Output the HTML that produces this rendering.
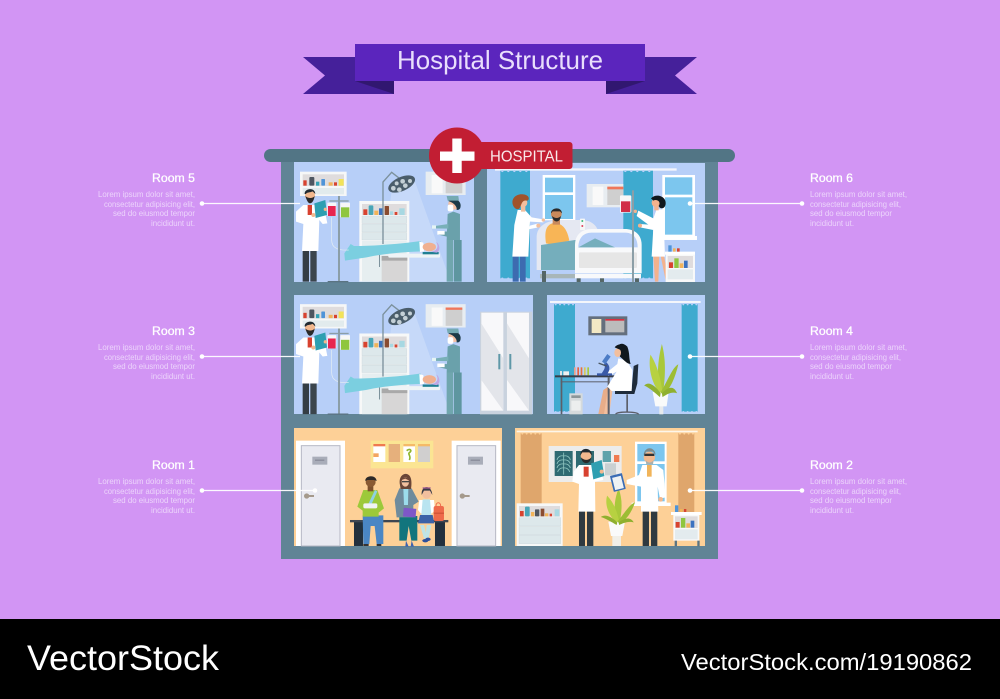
<!DOCTYPE html>
<html><head><meta charset="utf-8"><title>Hospital Structure</title>
<style>html,body{margin:0;padding:0;background:#d295f4}svg{display:block}text{font-family:"Liberation Sans",sans-serif}.r{stroke:#fff;stroke-width:.25}</style></head>
<body>
<svg xmlns="http://www.w3.org/2000/svg" width="1000" height="699" viewBox="0 0 1000 699">
<defs>
<g id="plant">
<path d="M-4,0C-10,-40 -6,-70 6,-100C18,-70 18,-40 10,0Z" fill="#a9c83a"/>
<path d="M-2,0C-28,-20 -38,-55 -30,-78C-10,-58 2,-30 8,0Z" fill="#b7d141"/>
<path d="M2,0C25,-25 40,-52 58,-58C48,-30 32,-6 10,5Z" fill="#9dbd34"/>
<path d="M2,2C-15,-14 -36,-24 -50,-14C-30,-8 -15,2 0,10Z" fill="#8fb02f"/>
<path d="M6,2C25,-10 42,-16 54,2C36,-2 22,4 8,10Z" fill="#8fb02f"/>
</g>
<g id="shelfItems">
<rect x="0" y="10" width="10" height="16" fill="#d8432f"/><rect x="18" y="0" width="15" height="26" rx="3" fill="#4f5660"/>
<rect x="38" y="14" width="10" height="12" fill="#35a3b5"/><rect x="54" y="6" width="11" height="20" rx="2" fill="#4f94d8"/>
<rect x="76" y="16" width="12" height="10" fill="#f1b45a"/><rect x="92" y="16" width="9" height="10" fill="#d8432f"/><rect x="106" y="6" width="15" height="20" fill="#f2e35a"/>
</g>
<g id="surgery">
<rect x="60" y="155" width="140" height="73" fill="#f6f7f7"/><rect x="68" y="163" width="124" height="35" fill="#dfdcdd"/><rect x="68" y="204" width="124" height="19" fill="#e2ebed"/>
<use href="#shelfItems" x="70" y="171"/>
<rect x="437" y="155" width="120" height="70" fill="#e8edf1"/><rect x="455" y="165" width="33" height="55" fill="#f9f9f9"/><rect x="497" y="165" width="50" height="55" fill="#cfcfcf"/><rect x="497" y="165" width="50" height="7" fill="#f0765a"/>
<polygon points="335,213 405,185 512,485 298,485" fill="#fff" opacity=".22"/>
<rect x="238" y="243" width="150" height="242" fill="#f7f8f8"/><rect x="246" y="252" width="134" height="33" fill="#dfdcdd"/>
<rect x="250" y="268" width="12" height="17" fill="#d8432f"/><rect x="266" y="256" width="14" height="29" rx="3" fill="#48a6b8"/><rect x="283" y="272" width="12" height="13" fill="#f1b45a"/><rect x="297" y="265" width="12" height="20" fill="#3c72c0"/><rect x="314" y="258" width="13" height="27" rx="2" fill="#8a4c30"/><rect x="330" y="274" width="9" height="11" fill="#a7d8e2"/><rect x="344" y="276" width="8" height="9" fill="#d8432f"/><rect x="358" y="265" width="16" height="20" fill="#a7d8e2"/>
<g fill="#dde8eb" stroke="#c6d3d7"><rect x="246" y="288" width="134" height="22"/><rect x="246" y="312" width="134" height="24"/><rect x="246" y="338" width="134" height="22"/></g>
<rect x="246" y="363" width="134" height="122" fill="#e6eef0"/><rect x="305" y="408" width="77" height="77" fill="#d7d6d6"/><rect x="305" y="408" width="77" height="14" fill="#a9a9a9"/>
<g fill="none" stroke="#7c919c" stroke-width="4"><path d="M309,372V186L335,157L362,178"/></g>
<rect x="297" y="405" width="3" height="36" fill="#7c919c"/>
<ellipse cx="365" cy="192" rx="43" ry="21" transform="rotate(-24 365 192)" fill="#4a5d6b"/>
<g fill="#c4d0d6"><circle cx="340" cy="205" r="7"/><circle cx="358" cy="209" r="7"/><circle cx="376" cy="197" r="7"/><circle cx="390" cy="183" r="6"/><circle cx="368" cy="184" r="7"/><circle cx="350" cy="190" r="6"/></g>
<rect x="325" y="401" width="155" height="12" rx="3" fill="#eef4f6"/><rect x="428" y="396" width="48" height="7" fill="#1f7f92"/>
<path d="M193,400L212,372L222,378C280,378 360,372 422,363L424,394C360,396 300,403 260,412L195,422Z" fill="#7bcfe0"/><path d="M418,365L430,368L432,394L420,396Z" fill="#fff"/>
<ellipse cx="448" cy="381" rx="20" ry="13" fill="#f0b090"/><path d="M450,395C470,395 478,380 468,366C480,370 482,395 470,398Z" fill="#bfa8e4"/>
<path d="M155,292V360C155,385 175,392 206,390" fill="none" stroke="#e6eef3" stroke-width="2"/>
<rect x="174" y="228" width="6" height="257" fill="#8b9ea7"/><rect x="148" y="241" width="58" height="4" fill="#8b9ea7"/><rect x="143" y="483" width="62" height="4" fill="#5b7482"/>
<rect x="142" y="248" width="27" height="40" rx="2" fill="#f7f7f7"/><rect x="144" y="258" width="23" height="30" fill="#e8254f"/>
<rect x="181" y="248" width="29" height="44" rx="2" fill="#f7f7f7"/><rect x="183" y="262" width="25" height="30" fill="#8fc63e"/>
<use href="#doc5"/>
<g>
<rect x="500" y="360" width="20" height="125" fill="#70a6ae"/><rect x="522" y="360" width="23" height="125" fill="#5e96a0"/>
<path d="M503,282L520,275L540,282V360H500Z" fill="#6aa1ab"/><path d="M505,312L465,318L465,325L505,326Z" fill="#79b0b8"/><path d="M510,335L475,334V344L510,352Z" fill="#6aa1ab"/>
<rect x="456" y="316" width="12" height="10" fill="#e6f5f5"/><rect x="472" y="333" width="22" height="11" fill="#fff"/>
<circle cx="522" cy="252" r="17" fill="#f3bfa4"/><path d="M505,243C515,232 540,236 542,255C542,265 540,270 530,270C532,258 520,248 505,243Z" fill="#1d3a48"/>
<rect x="503" y="254" width="17" height="20" rx="6" fill="#fff"/><path d="M500,228H535L537,242H503Z" fill="#75aab3"/>
</g>
</g>
<g id="doc5">
<rect x="68" y="392" width="19" height="93" fill="#343d44"/><rect x="91" y="392" width="19" height="93" fill="#3b454c"/>
<path d="M70,255L108,255L135,275L142,310L128,312L118,300L115,393H66L70,312L48,305V275Z" fill="#fff"/>
<rect x="83" y="255" width="13" height="30" fill="#d8412f"/>
<circle cx="90" cy="226" r="15" fill="#f2b88e"/><path d="M74,222C72,205 105,200 106,222L98,214C90,218 80,216 78,222Z" fill="#222a30"/><path d="M76,228C80,240 84,250 90,250C97,250 102,240 104,228C98,236 84,236 76,228Z" fill="#2a2a2a"/>
<polygon points="103,250 136,240 141,285 107,294" fill="#2e9fb1"/><circle cx="100" cy="285" r="6" fill="#f2b88e"/><circle cx="136" cy="268" r="5" fill="#f2b88e"/>
</g>
</defs>

<rect width="1000" height="699" fill="#d295f4"/>

<!-- title ribbon -->
<polygon points="303,57 394,57 394,94 303,94 325,75.5" fill="#45209a"/>
<polygon points="697,57 606,57 606,94 697,94 675,75.5" fill="#45209a"/>
<polygon points="355,81 394,81 394,94" fill="#311770"/><polygon points="645,81 606,81 606,94" fill="#311770"/>
<rect x="355" y="44" width="290" height="37" fill="#5b25bd"/>
<text x="397" y="69" font-size="26" fill="#e9defc" textLength="206" lengthAdjust="spacingAndGlyphs">Hospital Structure</text>

<!-- building -->
<rect x="281" y="155" width="437" height="404" fill="#618496"/>
<rect x="264" y="149" width="471" height="13" rx="6.5" fill="#527585"/>
<rect x="294" y="162" width="180" height="120" fill="#b7cff8"/>
<rect x="487" y="163" width="218" height="119" fill="#b7cff8"/>
<rect x="294" y="295" width="239" height="119" fill="#b7cff8"/>
<rect x="547" y="295" width="158" height="119" fill="#b7cff8"/>
<rect x="294" y="428" width="208" height="118" fill="#fdd097"/>
<rect x="515" y="428" width="190" height="118" fill="#fdd097"/>

<!-- room 5 -->
<g transform="translate(280,120) scale(.3333)"><use href="#surgery"/></g>
<!-- room 3 -->
<g transform="translate(280,252.5) scale(.3333)"><use href="#surgery"/></g>
<g transform="translate(280,290) scale(.3333)">
<rect x="600" y="65" width="157" height="308" fill="#c9d2de"/><rect x="604" y="68" width="66" height="294" fill="#f8f8fa"/><rect x="681" y="68" width="66" height="294" fill="#f8f8fa"/>
<polygon points="604,100 670,205 670,362 604,270" fill="#e3e5ea"/><polygon points="681,100 747,205 747,362 681,270" fill="#e3e5ea"/>
<rect x="655" y="192" width="6" height="46" fill="#5f98a8"/><rect x="688" y="192" width="6" height="46" fill="#5f98a8"/>
</g>

<!-- room 6 -->
<g transform="translate(480,130) scale(.3333)">
<rect x="45" y="115" width="545" height="7" fill="#f4f6fb"/>
<rect x="61" y="122" width="89" height="323" fill="#3eaacf"/><rect x="430" y="122" width="89" height="323" fill="#3eaacf"/>
<g stroke="#b7cff8" stroke-width="7" stroke-linecap="round" stroke-dasharray="0 18"><line x1="67" y1="123" x2="150" y2="123"/><line x1="436" y1="123" x2="519" y2="123"/><line x1="67" y1="446" x2="150" y2="446"/><line x1="436" y1="446" x2="519" y2="446"/></g>
<rect x="188" y="135" width="98" height="136" fill="#fff"/><rect x="195" y="143" width="84" height="44" fill="#7cc6ee"/><rect x="195" y="195" width="84" height="72" fill="#7cc6ee"/>
<rect x="547" y="135" width="98" height="185" fill="#fff"/><rect x="555" y="142" width="82" height="52" fill="#7cc6ee"/><rect x="555" y="202" width="82" height="112" fill="#7cc6ee"/><rect x="535" y="318" width="116" height="12" fill="#fff"/>
<rect x="320" y="162" width="110" height="70" fill="#e8edf1"/><rect x="338" y="170" width="32" height="55" fill="#f9f9f9"/><rect x="382" y="170" width="48" height="55" fill="#cfcfcf"/><rect x="382" y="170" width="48" height="8" fill="#f0765a"/>
<path d="M170,420V320C170,290 200,270 240,270H300C340,270 360,290 360,340V420Z" fill="#e5e8f2"/>
<path d="M198,340C192,300 200,282 225,278C250,282 262,300 268,332L220,345Z" fill="#f8b556"/>
<rect x="218" y="260" width="22" height="24" fill="#c98a5c"/><circle cx="229" cy="252" r="16" fill="#c98a5c"/><path d="M213,250C212,232 245,228 246,250L240,244H218Z" fill="#2a2a2a"/><path d="M216,258C220,280 240,280 243,258C235,266 225,266 216,258Z" fill="#2a2a2a"/>
<path d="M183,345L285,330L400,352H285V420H183Z" fill="#75aebc"/>
<rect x="300" y="266" width="15" height="34" rx="2" fill="#f5f7f7"/><circle cx="307" cy="273" r="3" fill="#3bb77a"/><circle cx="307" cy="288" r="3" fill="#e0405a"/>
<path d="M285,430V345C285,315 305,297 335,297H435C465,297 485,315 485,345V430Z" fill="#f8f9fb"/><path d="M295,352C295,325 310,308 335,308H435C460,308 473,325 473,352Z" fill="#b7cff8"/><path d="M295,352L345,325L405,352Z" fill="#75aebc"/>
<rect x="297" y="367" width="174" height="47" rx="3" fill="#e6e6e6"/>
<rect x="180" y="432" width="105" height="13" fill="#a8b6b8"/><rect x="285" y="432" width="198" height="13" fill="#f8f9fb"/>
<g fill="#566"><rect x="186" y="423" width="12" height="33"/><rect x="290" y="445" width="12" height="11"/><rect x="360" y="445" width="12" height="11"/><rect x="465" y="445" width="12" height="11"/></g>
<rect x="456" y="181" width="6" height="275" fill="#8b9ea7"/>
<rect x="420" y="196" width="34" height="52" rx="3" fill="#f7f7f7"/><rect x="423" y="214" width="28" height="32" fill="#d12f47"/>
<rect x="98" y="375" width="18" height="80" fill="#3d6bb0"/><rect x="120" y="375" width="17" height="80" fill="#3d6bb0"/>
<path d="M113,240L135,240L155,262L190,268V277L150,275L145,380H97L103,285Z" fill="#fff"/><path d="M150,287L175,280V292L145,298Z" fill="#fff"/>
<rect x="123" y="225" width="13" height="20" fill="#f2bf9e"/><circle cx="129" cy="218" r="13" fill="#f2bf9e"/><path d="M100,228C90,205 110,190 130,193C150,195 150,212 140,212C125,208 125,225 118,236C110,240 104,235 100,228Z" fill="#a0532b"/>
<circle cx="190" cy="270" r="5" fill="#f2bf9e"/><circle cx="175" cy="287" r="6" fill="#f2bf9e"/>
<path d="M520,378H538L535,455H525Z" fill="#f3b28d"/><path d="M542,378H552L568,455H558Z" fill="#f3b28d"/>
<path d="M530,238L550,238L555,380H515L520,295L470,258L475,242L520,265Z" fill="#fff"/>
<path d="M522,285L480,282V292L520,300Z" fill="#fff"/><circle cx="480" cy="287" r="6" fill="#f3b28d"/><circle cx="466" cy="244" r="5" fill="#f3b28d"/>
<rect x="523" y="225" width="13" height="16" fill="#f3b28d"/><circle cx="528" cy="218" r="13" fill="#f3b28d"/><path d="M513,205C530,188 560,200 557,222C555,238 540,238 536,228C545,215 530,206 520,212Z" fill="#10181e"/>
<rect x="557" y="366" width="88" height="90" fill="#f8f9f9"/><rect x="555" y="365" width="90" height="9" fill="#fff"/><rect x="563" y="378" width="76" height="36" fill="#dfdcdd"/><rect x="563" y="418" width="76" height="30" fill="#e3ebee"/>
<rect x="565" y="346" width="10" height="19" fill="#4f94d8"/><rect x="579" y="355" width="8" height="10" fill="#f1b45a"/><rect x="591" y="355" width="8" height="10" fill="#d8432f"/>
<rect x="567" y="397" width="12" height="17" fill="#d8432f"/><rect x="583" y="385" width="13" height="29" fill="#8fc63e"/><rect x="599" y="400" width="11" height="14" fill="#f1b45a"/><rect x="612" y="392" width="11" height="22" fill="#3c72c0"/>
</g>

<!-- room 4 -->
<g transform="translate(530,290) scale(.3333)">
<rect x="60" y="33" width="452" height="6" fill="#f4f6fb"/>
<rect x="72" y="42" width="63" height="323" fill="#3eaacf"/><rect x="455" y="42" width="48" height="323" fill="#3eaacf"/>
<g stroke="#b7cff8" stroke-width="6" stroke-linecap="round" stroke-dasharray="0 13"><line x1="77" y1="43" x2="135" y2="43"/><line x1="460" y1="43" x2="503" y2="43"/><line x1="77" y1="366" x2="135" y2="366"/><line x1="460" y1="366" x2="503" y2="366"/></g>
<rect x="175" y="79" width="117" height="57" fill="#646f7d"/><rect x="185" y="87" width="29" height="42" fill="#f2e8c4"/><rect x="226" y="87" width="57" height="40" fill="#bcbcbc"/><rect x="226" y="87" width="57" height="5" fill="#d83040"/>
<rect x="118" y="310" width="40" height="63" fill="#d5dadc"/><rect x="124" y="316" width="28" height="8" fill="#8c969a"/><rect x="124" y="332" width="28" height="30" fill="#eceeee"/>
<rect x="90" y="243" width="6" height="18" fill="#dfe3e6"/><rect x="100" y="244" width="17" height="13" fill="#eef0f0"/>
<g><rect x="132" y="232" width="5" height="24" fill="#e9a08a"/><rect x="142" y="232" width="5" height="24" fill="#e8603c"/><rect x="152" y="232" width="5" height="24" fill="#e8703c"/><rect x="162" y="232" width="5" height="24" fill="#d7c95a"/><rect x="172" y="232" width="5" height="24" fill="#a9c83a"/></g>
<path d="M215,372L235,282H250L238,372Z" fill="#f2bf9e"/>
<path d="M222,372L205,372L220,300L235,290Z" fill="#e8ad89"/>
<rect x="75" y="256" width="182" height="6" fill="#383e49"/><rect x="92" y="262" width="5" height="111" fill="#5c5f69"/><rect x="233" y="262" width="6" height="111" fill="#5c5f69"/><rect x="92" y="274" width="147" height="3" fill="#5c5f69"/>
<rect x="289" y="313" width="5" height="52" fill="#5c5f69"/><path d="M257,373C260,364 320,364 326,373" fill="none" stroke="#5c5f69" stroke-width="4"/>
<path d="M311,228L325,222L322,280L313,312H255V303L305,298Z" fill="#1f2c3b"/>
<path d="M265,205L290,212L307,240L305,303H245L232,290L260,245L235,258L230,248L262,222Z" fill="#fff"/>
<path d="M267,172C262,160 280,156 292,170C300,190 296,205 302,222C290,222 280,208 270,200C265,190 270,180 267,172Z" fill="#10181e"/>
<ellipse cx="263" cy="188" rx="10" ry="13" fill="#f2bf9e"/><path d="M254,172C262,160 280,160 285,175L272,180Z" fill="#10181e"/>
<rect x="201" y="250" width="45" height="7" fill="#3a5aa8"/><path d="M215,250C222,240 228,232 222,222L228,216C242,228 240,240 232,252Z" fill="#3a5aa8"/><polygon points="216,215 232,192 242,200 226,222" fill="#4c7cc6"/><rect x="205" y="222" width="26" height="4" transform="rotate(20 218 224)" fill="#4a5660"/>
<rect x="388" y="345" width="12" height="28" fill="#e7eaed"/><path d="M368,306H416L410,349H376Z" fill="#f9fafa"/>
<g transform="translate(390,307)"><use href="#plant" transform="scale(.95,1.45)"/></g>
</g>

<!-- room 1 -->
<g transform="translate(280,420) scale(.3333)">
<g id="door1"><rect x="48" y="62" width="147" height="316" fill="#fff"/><rect x="64" y="77" width="116" height="301" fill="#e9eaf1" stroke="#b6b8c4" stroke-width="3"/><rect x="97" y="110" width="45" height="24" fill="#a9adb9"/><rect x="105" y="119" width="28" height="3" fill="#7f8290"/><circle cx="80" cy="228" r="8" fill="#a59a8c"/><rect x="80" y="225" width="22" height="6" fill="#a59a8c"/></g>
<use href="#door1" x="467"/>
<rect x="272" y="62" width="188" height="83" fill="#fbe593"/>
<rect x="280" y="72" width="36" height="54" fill="#fff"/><rect x="280" y="72" width="36" height="7" fill="#ef7a50"/><rect x="280" y="100" width="16" height="11" fill="#f3a560"/>
<rect x="326" y="72" width="34" height="54" fill="#e6b07c"/><rect x="370" y="72" width="35" height="54" fill="#fff"/><rect x="370" y="72" width="35" height="7" fill="#f4ba68"/><path d="M380,92C390,84 398,92 388,98C382,102 395,108 388,120" fill="none" stroke="#8fb52f" stroke-width="5"/>
<rect x="414" y="72" width="36" height="54" fill="#d0cfcf"/><rect x="414" y="72" width="36" height="7" fill="#f4ba68"/>
<rect x="222" y="305" width="27" height="73" fill="#22303d"/><rect x="465" y="305" width="30" height="73" fill="#22303d"/><rect x="210" y="300" width="295" height="7" fill="#3e4651"/>
<!-- man -->
<path d="M248,286H310V372H290L284,318H272L268,372H250Z" fill="#4a86c4"/><rect x="250" y="372" width="16" height="6" fill="#333"/><rect x="290" y="372" width="14" height="6" fill="#333"/>
<path d="M250,210L292,210L312,265L296,278V290H248V272L232,260Z" fill="#9cc93a"/><path d="M285,210L262,258H272L292,214Z" fill="#8fd0e4"/><rect x="250" y="250" width="42" height="15" rx="5" fill="#f1f3f3"/>
<rect x="263" y="198" width="17" height="16" fill="#7d512e"/><circle cx="272" cy="186" r="15" fill="#8a5a33"/><path d="M256,183C254,166 288,162 290,183L282,180H262Z" fill="#2d2a28"/>
<!-- woman -->
<path d="M358,288H412L412,362H394L386,318L380,362H358Z" fill="#12757d"/><path d="M378,362L386,380H376ZM395,362L402,380H392Z" fill="#3c62ae"/>
<path d="M358,205H395L416,245L400,255V292H350L344,240Z" fill="#6f8b9c"/><path d="M370,205H385L384,255H372Z" fill="#9cdcec"/>
<rect x="370" y="265" width="38" height="26" transform="rotate(5 390 278)" fill="#7e57c8"/>
<path d="M360,195C355,170 370,160 380,162C396,165 396,190 393,207H362Z" fill="#6a4638"/><ellipse cx="376" cy="186" rx="11" ry="14" fill="#f2bf9e"/><path d="M364,180C368,170 385,170 388,182L376,176Z" fill="#6a4638"/><rect x="366" y="183" width="22" height="4" fill="#444"/>
<!-- girl -->
<path d="M420,315H432L442,355H432ZM440,315H454L446,355H436Z" fill="#bfe4e6"/><ellipse cx="436" cy="362" rx="9" ry="5" fill="#2d4f9b"/><ellipse cx="444" cy="358" rx="8" ry="5" fill="#2d4f9b"/>
<path d="M420,285H458L463,310H414Z" fill="#3b62a8"/>
<path d="M418,240H440L462,240L465,270L456,280H422L414,270Z" fill="#fff"/><path d="M428,238H450L454,285H424Z" fill="#b9e4f0"/>
<rect x="461" y="258" width="31" height="45" rx="6" fill="#ee6a4a"/><path d="M468,258C468,245 482,245 482,258" fill="none" stroke="#ee6a4a" stroke-width="3"/><rect x="461" y="278" width="31" height="3" fill="#c84d32"/>
<ellipse cx="440" cy="220" rx="14" ry="16" fill="#f2bf9e"/><path d="M425,225C422,195 455,192 457,225L450,212H432Z" fill="#3a3a46"/><rect x="428" y="202" width="24" height="4" fill="#a05a90"/>
</g>

<!-- room 2 -->
<g transform="translate(505,420) scale(.3333)">
<rect x="35" y="32" width="543" height="5" fill="#fdf6ea"/>
<rect x="47" y="40" width="63" height="215" fill="#dfa66c"/><rect x="520" y="40" width="48" height="240" fill="#dfa66c"/>
<g stroke="#fdd097" stroke-width="6" stroke-linecap="round" stroke-dasharray="0 13"><line x1="52" y1="41" x2="110" y2="41"/><line x1="525" y1="41" x2="568" y2="41"/></g>
<rect x="131" y="78" width="219" height="108" fill="#ececec"/><rect x="149" y="93" width="54" height="75" fill="#2f6a72"/>
<g fill="none" stroke="#8fc5c0" stroke-width="2.5"><path d="M176,98V164M176,108C165,105 158,112 156,120M176,108C187,105 194,112 196,120M176,120C165,118 158,124 156,132M176,120C187,118 194,124 196,132M176,132C165,130 158,136 156,144M176,132C187,130 194,136 196,144M176,144C168,142 160,148 158,156M176,144C184,142 192,148 194,156"/></g>
<rect x="213" y="93" width="54" height="75" fill="#2f6a72"/><rect x="293" y="93" width="25" height="33" fill="#5fa3ab"/><rect x="327" y="105" width="16" height="21" fill="#ef7a50"/><rect x="300" y="130" width="33" height="36" fill="#c9d0d2"/>
<rect x="390" y="65" width="95" height="185" fill="#fff"/><rect x="397" y="72" width="82" height="52" fill="#7cc6ee"/><rect x="397" y="132" width="82" height="112" fill="#7cc6ee"/><rect x="380" y="248" width="117" height="10" fill="#fff"/>
<rect x="222" y="272" width="18" height="106" fill="#2f3a40"/><rect x="246" y="272" width="19" height="106" fill="#2f3a40"/>
<path d="M222,135H262L288,155L295,180L270,185L271,275H220L222,192L202,185L206,155Z" fill="#fff"/><rect x="236" y="140" width="15" height="30" fill="#d8412f"/>
<circle cx="243" cy="108" r="16" fill="#f2b88e"/><path d="M226,106C225,80 260,80 261,106L253,97H232Z" fill="#222a30"/><path d="M228,112C232,135 255,135 259,112C250,122 238,122 228,112Z" fill="#2a2a2a"/>
<polygon points="258,130 290,120 298,168 265,178" fill="#2e9fb1"/><circle cx="290" cy="155" r="6" fill="#f2b88e"/>
<rect x="413" y="272" width="19" height="106" fill="#2f3a40"/><rect x="438" y="272" width="19" height="106" fill="#2f3a40"/>
<path d="M412,135H455L475,150L482,232L465,236L458,200L460,275H408V200L365,192V180L402,165Z" fill="#fff"/><rect x="426" y="135" width="14" height="35" fill="#f1b45a"/>
<circle cx="433" cy="112" r="17" fill="#f2b88e"/><path d="M416,105C418,78 450,78 452,105L444,95H424Z" fill="#7d8a8c"/><rect x="418" y="101" width="30" height="7" fill="#333"/><path d="M422,120C428,130 440,130 446,120L444,134H424Z" fill="#a8b0ae"/><circle cx="467" cy="238" r="7" fill="#f2b88e"/>
<rect x="322" y="348" width="26" height="30" fill="#f1efe8"/><path d="M310,305H360L352,348H318Z" fill="#fafafa"/>
<g transform="translate(335,305)"><use href="#plant" transform="scale(.95,1)"/></g>
<g transform="rotate(-14 338 187)"><rect x="320" y="163" width="37" height="49" rx="2" fill="#3a6cb5"/><rect x="325" y="170" width="27" height="38" fill="#eef2f4"/></g>
<rect x="35" y="250" width="138" height="128" fill="#f7f8f8"/><rect x="42" y="258" width="123" height="32" fill="#dfdcdd"/>
<rect x="45" y="273" width="11" height="16" fill="#d8432f"/><rect x="60" y="260" width="14" height="29" rx="3" fill="#48a6b8"/><rect x="78" y="276" width="10" height="13" fill="#f1b45a"/><rect x="90" y="268" width="13" height="21" rx="2" fill="#4f5660"/><rect x="107" y="266" width="11" height="23" fill="#8a4c30"/><rect x="120" y="280" width="10" height="9" fill="#f1b45a"/><rect x="134" y="281" width="7" height="8" fill="#d8432f"/><rect x="149" y="268" width="14" height="21" fill="#a7d8e2"/>
<g fill="#dde8eb" stroke="#c6d3d7"><rect x="42" y="293" width="125" height="25"/><rect x="42" y="320" width="125" height="24"/><rect x="42" y="346" width="125" height="25"/></g>
<rect x="498" y="276" width="92" height="9" fill="#fff"/><rect x="505" y="285" width="78" height="77" fill="#f8f9f9"/><rect x="509" y="362" width="7" height="17" fill="#5b7482"/><rect x="577" y="362" width="7" height="17" fill="#5b7482"/><rect x="510" y="289" width="68" height="35" fill="#dfdcdd"/><rect x="510" y="328" width="68" height="30" fill="#e3ebee"/>
<rect x="510" y="256" width="10" height="20" fill="#4f94d8"/><rect x="525" y="267" width="8" height="9" fill="#f1b45a"/><rect x="537" y="267" width="7" height="9" fill="#d8432f"/>
<rect x="512" y="306" width="12" height="17" fill="#d8432f"/><rect x="528" y="294" width="13" height="29" fill="#8fc63e"/><rect x="544" y="310" width="11" height="13" fill="#f1b45a"/><rect x="557" y="302" width="11" height="21" fill="#3c72c0"/>
</g>

<!-- hospital sign -->
<rect x="470" y="142" width="102.5" height="27" rx="3" fill="#c21e33"/>
<circle cx="457" cy="155.5" r="28" fill="#c21e33"/>
<rect x="452.3" y="138.5" width="9.4" height="34.5" fill="#fff"/><rect x="440" y="151.5" width="34.5" height="9.3" fill="#fff"/>
<text x="490" y="161.500" font-size="15.5" fill="#f9e8ea" textLength="73" lengthAdjust="spacingAndGlyphs">HOSPITAL</text>

<!-- connectors -->
<g stroke="#fff" stroke-width="1.3" opacity=".95">
<line x1="202" y1="203.5" x2="300" y2="203.5"/><line x1="202" y1="356.5" x2="300" y2="356.5"/><line x1="202" y1="490.5" x2="315" y2="490.5"/>
<line x1="690" y1="203.5" x2="802" y2="203.5"/><line x1="690" y1="356.5" x2="802" y2="356.5"/><line x1="690" y1="490.5" x2="802" y2="490.5"/>
</g>
<g fill="#fff"><circle cx="202" cy="203.5" r="2.3"/><circle cx="202" cy="356.5" r="2.3"/><circle cx="202" cy="490.5" r="2.3"/><circle cx="315" cy="490.5" r="2.3"/>
<circle cx="690" cy="203.5" r="2.3"/><circle cx="690" cy="356.5" r="2.3"/><circle cx="690" cy="490.5" r="2.3"/><circle cx="802" cy="203.5" r="2.3"/><circle cx="802" cy="356.5" r="2.3"/><circle cx="802" cy="490.5" r="2.3"/></g>

<!-- left labels -->
<g text-anchor="end" fill="#fff">
<g><text class="r" x="195" y="182" font-size="11.5" textLength="43" lengthAdjust="spacingAndGlyphs">Room 5</text>
<g font-size="8" fill="#ecd4fb"><text x="195" y="197" textLength="97" lengthAdjust="spacingAndGlyphs">Lorem ipsum dolor sit amet,</text><text x="195" y="207" textLength="91" lengthAdjust="spacingAndGlyphs">consectetur adipisicing elit,</text><text x="195" y="216" textLength="82" lengthAdjust="spacingAndGlyphs">sed do eiusmod tempor</text><text x="195" y="226" textLength="44" lengthAdjust="spacingAndGlyphs">incididunt ut.</text></g></g>
<g><text class="r" x="195" y="335" font-size="11.5" textLength="43" lengthAdjust="spacingAndGlyphs">Room 3</text>
<g font-size="8" fill="#ecd4fb"><text x="195" y="350" textLength="97" lengthAdjust="spacingAndGlyphs">Lorem ipsum dolor sit amet,</text><text x="195" y="360" textLength="91" lengthAdjust="spacingAndGlyphs">consectetur adipisicing elit,</text><text x="195" y="369" textLength="82" lengthAdjust="spacingAndGlyphs">sed do eiusmod tempor</text><text x="195" y="379" textLength="44" lengthAdjust="spacingAndGlyphs">incididunt ut.</text></g></g>
<g><text class="r" x="195" y="469" font-size="11.5" textLength="43" lengthAdjust="spacingAndGlyphs">Room 1</text>
<g font-size="8" fill="#ecd4fb"><text x="195" y="484" textLength="97" lengthAdjust="spacingAndGlyphs">Lorem ipsum dolor sit amet,</text><text x="195" y="494" textLength="91" lengthAdjust="spacingAndGlyphs">consectetur adipisicing elit,</text><text x="195" y="503" textLength="82" lengthAdjust="spacingAndGlyphs">sed do eiusmod tempor</text><text x="195" y="513" textLength="44" lengthAdjust="spacingAndGlyphs">incididunt ut.</text></g></g>
</g>
<!-- right labels -->
<g fill="#fff">
<g><text class="r" x="810" y="182" font-size="11.5" textLength="43" lengthAdjust="spacingAndGlyphs">Room 6</text>
<g font-size="8" fill="#ecd4fb"><text x="810" y="197" textLength="97" lengthAdjust="spacingAndGlyphs">Lorem ipsum dolor sit amet,</text><text x="810" y="207" textLength="91" lengthAdjust="spacingAndGlyphs">consectetur adipisicing elit,</text><text x="810" y="216" textLength="82" lengthAdjust="spacingAndGlyphs">sed do eiusmod tempor</text><text x="810" y="226" textLength="44" lengthAdjust="spacingAndGlyphs">incididunt ut.</text></g></g>
<g><text class="r" x="810" y="335" font-size="11.5" textLength="43" lengthAdjust="spacingAndGlyphs">Room 4</text>
<g font-size="8" fill="#ecd4fb"><text x="810" y="350" textLength="97" lengthAdjust="spacingAndGlyphs">Lorem ipsum dolor sit amet,</text><text x="810" y="360" textLength="91" lengthAdjust="spacingAndGlyphs">consectetur adipisicing elit,</text><text x="810" y="369" textLength="82" lengthAdjust="spacingAndGlyphs">sed do eiusmod tempor</text><text x="810" y="379" textLength="44" lengthAdjust="spacingAndGlyphs">incididunt ut.</text></g></g>
<g><text class="r" x="810" y="469" font-size="11.5" textLength="43" lengthAdjust="spacingAndGlyphs">Room 2</text>
<g font-size="8" fill="#ecd4fb"><text x="810" y="484" textLength="97" lengthAdjust="spacingAndGlyphs">Lorem ipsum dolor sit amet,</text><text x="810" y="494" textLength="91" lengthAdjust="spacingAndGlyphs">consectetur adipisicing elit,</text><text x="810" y="503" textLength="82" lengthAdjust="spacingAndGlyphs">sed do eiusmod tempor</text><text x="810" y="513" textLength="44" lengthAdjust="spacingAndGlyphs">incididunt ut.</text></g></g>
</g>

<!-- footer -->
<rect x="0" y="619" width="1000" height="80" fill="#000"/>
<text x="27" y="670" font-size="35" fill="#fff" textLength="192" lengthAdjust="spacingAndGlyphs">VectorStock</text>
<text x="681" y="670" font-size="23" fill="#fff" textLength="291" lengthAdjust="spacingAndGlyphs">VectorStock.com/19190862</text>
</svg>
</body></html>
